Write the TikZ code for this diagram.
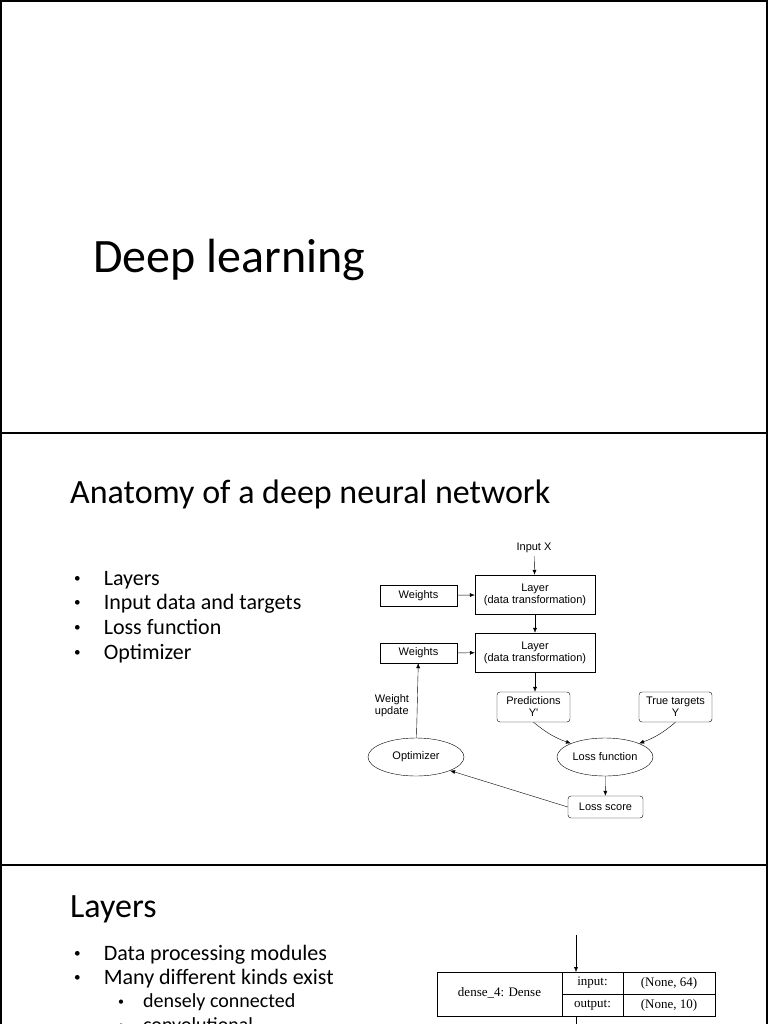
\documentclass[tikz,border=0pt]{standalone}
\usepackage{fontspec}
\setmainfont{Carlito}
\newfontfamily\diafont{Liberation Sans}
\newfontfamily\tabfont{Liberation Serif}
\usetikzlibrary{positioning,shapes.geometric,arrows.meta}
\newcommand{\dotmark}{\raisebox{0.1em}{\scalebox{0.6}{\textbullet}}}
\begin{document}
\begin{tikzpicture}[x=1pt,y=-1pt,
            slidetitle/.style = {anchor=base west, inner sep=0, font=\fontsize{34}{34}\selectfont},
            bullet/.style = {anchor=base west, inner sep=0, font=\fontsize{22}{22}\selectfont},
            box/.style = {draw, thin, font=\diafont\fontsize{11}{12}\selectfont, align=center, inner sep=1pt},
            oval/.style = {box, ellipse, minimum width=96, minimum height=38},
            arr/.style = {-{Latex[length=5pt,width=4pt]}, thin}]
            \useasboundingbox (0,0) rectangle (768,1024);
            \clip (0,0) rectangle (768,1024);
            % slide frames
            \draw[line width=2] (1,1) rectangle (767,433);
            \draw[line width=2] (1,433) rectangle (767,865);
            \draw[line width=2] (1,865) rectangle (767,1030);
            % slide 1
            \node[anchor=base west, inner sep=0, font=\fontsize{48}{48}\selectfont] (title) at (93,272) {Deep learning};
            % slide 2
            \node[slidetitle] (anatomy) at (70,503) {Anatomy of a deep neural network};
            \foreach \y/\t in {585/Layers, 609/Input data and targets, 634/Loss function, 659/Optimizer}
                {\node[bullet] at (74,\y) {\dotmark\hspace{23pt}\t};}
            \node[font=\diafont\fontsize{11}{12}\selectfont] (input) at (534,548) {Input X};
            \node[box, minimum width=120, minimum height=39] (layera) at (535,594.5) {Layer\\(data transformation)};
            \node[box, minimum width=120, minimum height=39] (layerb) at (535,652.5) {Layer\\(data transformation)};
            \node[box, minimum width=77, minimum height=21] (wa) at (418.5,595.5) {Weights};
            \node[box, minimum width=77, minimum height=20] (wb) at (418.5,653) {Weights};
            \node[box, rounded corners=3, minimum width=73, minimum height=30] (pred) at (533.5,707) {Predictions\\Y'};
            \node[box, rounded corners=3, minimum width=73, minimum height=30] (true) at (675.5,707) {True targets\\Y};
            \node[oval] (loss) at (605,757) {Loss function};
            \node[oval] (opt) at (416,757) {Optimizer};
            \node[box, rounded corners=3, minimum width=75, minimum height=22] (score) at (605.5,807) {Loss score};
            \node[font=\diafont\fontsize{11}{12}\selectfont, align=left] at (392,706) {Weight\\update};
            \draw[arr] (input) -- (layera);
            \draw[arr] (layera) -- (layerb);
            \draw[arr] (wa) -- (layera);
            \draw[arr] (wb) -- (layerb);
            \draw[arr] (layerb) -- (layerb |- pred.north);
            \draw[arr] (pred.south) to[bend right=10] (loss.north west);
            \draw[arr] (true.south) to[bend left=10] (loss.north east);
            \draw[arr] (loss) -- (score);
            \draw[arr] (score.west) -- (opt.south east);
            \draw[arr] (opt) -- (wb);
            % slide 3
            \node[slidetitle] (layers) at (70,917) {Layers};
            \node[bullet] at (74,960) {\dotmark\hspace{23pt}Data processing modules};
            \node[bullet] at (74,984) {\dotmark\hspace{23pt}Many different kinds exist};
            \node[anchor=base west, inner sep=0, font=\fontsize{20}{20}\selectfont] at (118,1007) {\dotmark\hspace{19pt}densely connected};
            \node[anchor=base west, inner sep=0, font=\fontsize{20}{20}\selectfont] at (118,1031) {\dotmark\hspace{19pt}convolutional};
            \draw (437,972) rectangle (715,1016);
            \draw (562,972) -- (562,1016) (623,972) -- (623,1016) (562,994) -- (715,994);
            \coordinate (top) at (576,935);
            \coordinate (tin) at (576,972);
            \coordinate (bot) at (576,1030);
            \draw[arr] (top) -- (tin);
            \draw (576,1016) -- (bot);
            \begin{scope}[every node/.style={font=\tabfont\fontsize{13}{13}\selectfont}]
                \node at (499.5,993) {dense\_4: Dense};
                \node at (592.5,983) {input:};
                \node at (592.5,1005) {output:};
                \node at (669,983) {(None, 64)};
                \node at (669,1005) {(None, 10)};
            \end{scope}
\end{tikzpicture}
\end{document}
